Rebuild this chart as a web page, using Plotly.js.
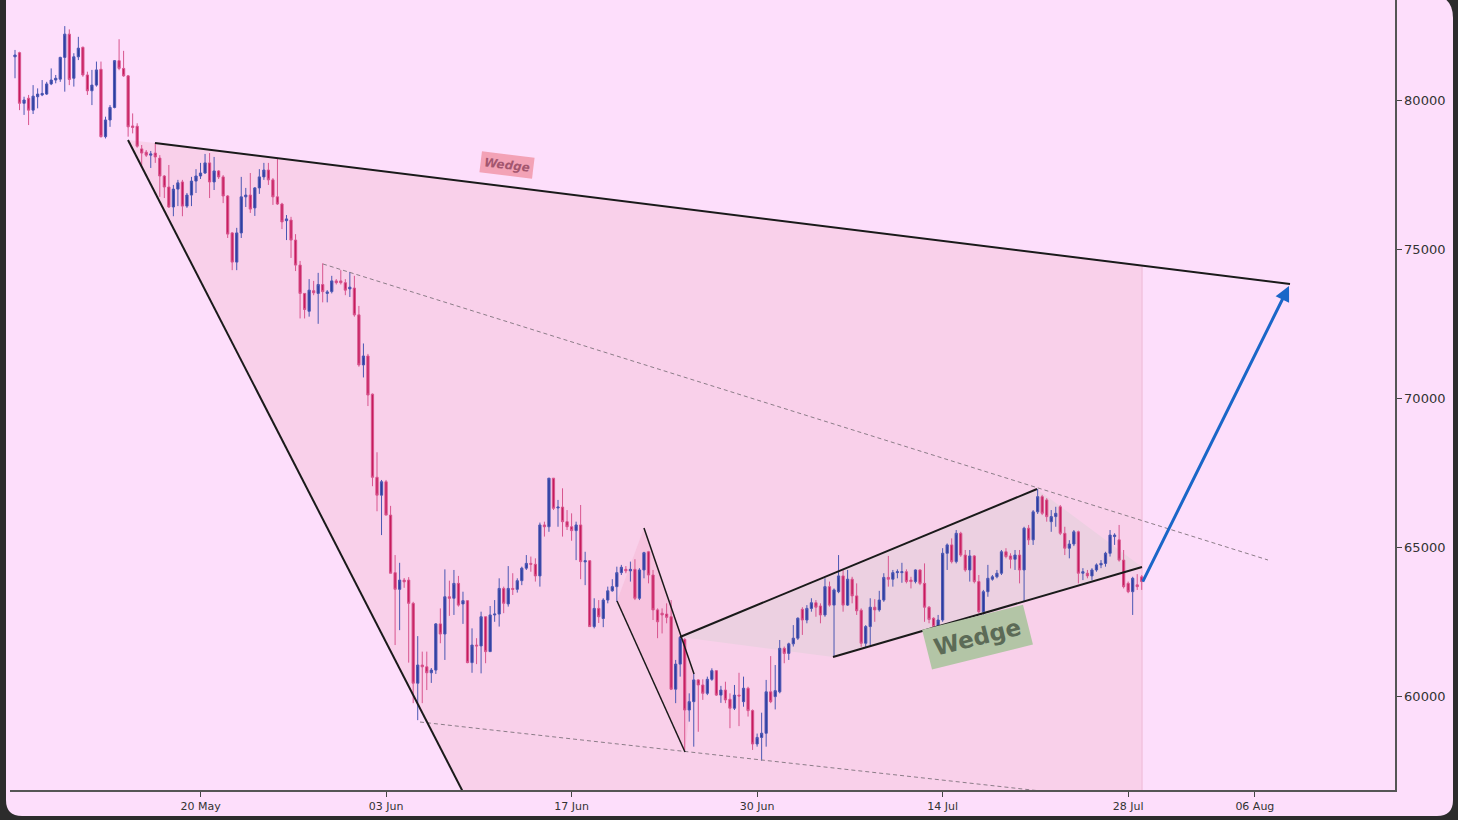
<!DOCTYPE html>
<html>
<head>
<meta charset="utf-8">
<script src="https://cdn.plot.ly/plotly-3.0.1.min.js"></script>
<style>html,body{margin:0;padding:0;background:#2c2c2c;}#chart{width:1458px;height:820px;}</style>
</head>
<body>
<div id="chart"></div>
<script>
// ---- candle data (8h bars, index based axis) ----
const openP = [
81450,81590,79890,80060,79660,80110,80170,80200,80540,80670,
80700,81430,82210,80730,81450,81770,80840,80310,80500,81030,
78770,79330,79750,81320,81060,80810,79130,79120,78360,78250,
78150,78220,78050,77450,77080,76410,77010,77250,76440,76810,
77280,77450,77550,77890,77250,77620,77420,76780,75540,74560,
75540,76750,76810,76380,77050,77420,77650,77320,76750,76510,
75950,75970,75300,74460,73510,72910,73600,73510,73810,73510,
73570,73930,73930,73870,73660,73690,72790,71110,71410,70130,
67340,66740,67190,66070,64140,63580,63890,63890,63110,60430,
61040,60980,60780,60870,62420,62080,63330,63280,63780,63090,
63200,61120,61710,61680,62660,61490,62720,62750,63610,63090,
63610,63580,63870,64290,64450,64420,64030,65740,65680,67310,
66310,66340,65850,65680,65550,65740,64500,64540,62330,62940,
62600,63220,63530,63670,64140,64250,64200,64250,63280,64230,
64840,64060,62890,62780,62750,62660,60230,61070,61900,59530,
59810,60540,60370,60090,60560,60850,60030,60200,59890,59590,
60030,59810,60260,59510,58390,58610,58750,60140,59980,60140,
61600,61430,61750,61940,62910,62550,62940,63130,63020,62720,
63670,63050,63500,64030,63050,63920,63360,62880,61770,62330,
62980,62890,63220,63980,63920,64140,64140,64170,63890,63840,
64230,63780,62980,62610,62330,62550,64790,65070,64510,65460,
64730,64230,64700,63840,62830,63500,63920,64000,64120,64840,
64700,64590,64730,64230,65630,65240,66180,66690,66580,65850,
66020,66350,65460,64960,65100,65510,64120,64120,64030,64230,
64400,64450,64790,65350,65240,64560,63780,63500,63730,64000];

const highP = [
81680,81620,80110,80170,80500,80390,80670,80610,81060,80840,
81450,82480,82370,81570,82120,81790,80950,81010,81290,81290,
79440,79830,81340,82040,81650,80840,79550,79220,78490,78320,
78290,78560,78150,77480,77820,77150,77320,77320,76880,77420,
77680,77890,78190,78220,78090,77650,77480,76810,75570,75710,
77420,77050,77550,77080,77680,77890,77890,77380,78050,76550,
76140,76080,75500,74600,73510,73990,73930,74200,74520,73620,
74100,73990,74290,73990,74230,74100,73090,71830,71480,70150,
68180,67250,67250,66380,64730,64470,63960,63990,63160,62010,
61490,61490,60940,62450,62940,64250,63870,64230,64030,63500,
63220,62270,61940,62830,62660,63020,63220,63950,63670,64360,
64120,63950,64340,64730,64680,64620,65820,65850,67310,67310,
66580,66970,66240,66130,65850,66410,64840,64560,63280,63220,
63280,63670,63920,64340,64400,64360,64510,64590,64290,64840,
64870,64230,62940,62940,63110,63220,61210,62010,61940,60090,
60760,60560,60560,60650,60930,60870,60340,60480,60090,60370,
60780,60650,60310,59550,58740,59440,60540,61340,61040,61880,
61660,61790,62380,62640,62980,63050,63280,63220,63110,63950,
63840,63610,64730,64230,64230,64000,63780,62940,62380,63280,
63250,63530,64120,64700,64230,64250,64470,64250,64000,64250,
64250,64450,63020,62640,62720,64960,65120,65290,65570,65510,
64900,64900,64730,64060,63560,64400,64060,64230,64900,64960,
64790,64900,64900,65680,65740,66240,66950,66750,66640,66240,
66350,66410,65680,65230,65570,65550,64290,64230,64290,64450,
64560,64840,65570,65460,65740,64900,63840,64000,64090,64060];

const lowP = [
80730,79660,79500,79160,79530,79720,80130,80170,80500,80560,
80610,80280,80500,80450,81340,80780,80170,79830,80450,78740,
78710,79100,79720,81000,80780,78770,78880,78400,77820,78090,
77720,77890,76750,76710,76380,76100,76440,76100,76380,76440,
76880,77350,77520,76710,76980,77350,76540,75370,74290,74290,
75370,76410,76210,76110,76850,77320,77150,76480,76480,75670,
75300,74700,74260,72670,72670,72730,73450,72490,73210,73210,
73510,73810,73810,73450,73390,72730,71050,70690,69730,67040,
66200,65400,66070,64120,61710,62210,63630,61120,59760,59190,
59760,60200,60440,60740,61770,61210,62690,62720,63000,62420,
61100,60780,61070,60760,61100,61490,62490,62330,62780,63000,
63390,63470,63720,64230,64170,63840,63670,65350,65510,66240,
65680,65350,65570,65210,64560,63920,63720,62330,62270,62450,
62310,63110,63500,63160,64060,64120,63840,63220,63220,63950,
63780,62550,61940,62100,62440,60200,59760,60650,58190,59140,
58300,58800,59870,60030,60510,60000,59770,59760,58920,59530,
58990,59640,59310,58190,58300,57830,58300,59760,59550,60090,
61100,61210,61660,61880,62050,62440,62830,62660,62440,62660,
63000,61320,63450,62830,63020,63110,62720,61650,61650,61710,
62490,62830,63160,63670,63670,63950,63800,63780,63610,63780,
63720,62490,62440,61880,62210,62490,64230,64450,64450,64670,
64170,63840,63780,62780,62550,63330,63870,63950,64060,64620,
64280,64230,63780,63160,65070,65070,66110,66070,65850,65510,
65680,65400,64730,64620,65030,63780,63890,63950,63890,64170,
64290,64340,64680,65070,64510,63610,63450,62720,63560,63560];

const closeP = [
81510,79890,80000,79660,80130,80200,80220,80540,80670,80730,
81430,82210,80690,81450,81740,80840,80310,80500,81010,78770,
79330,79750,81320,81060,80810,79100,79080,78450,78220,78150,
78190,78090,77450,77080,76410,77010,77220,76440,76810,77280,
77450,77550,77890,77250,77620,77420,76780,75500,74560,75540,
76750,76810,76340,77050,77420,77650,77320,76750,76510,75910,
76010,75300,74460,73510,72970,73620,73530,73810,73570,73560,
73930,73870,73870,73620,73720,72790,71110,71410,70100,67340,
66740,67190,66070,64120,63580,63890,63830,63110,60430,61040,
60980,60780,60870,62420,62080,63330,63280,63780,63050,63200,
61120,61710,61680,62660,61490,62720,62750,63610,63110,63610,
63580,63870,64290,64450,64420,64030,65740,65680,67310,66300,
66340,65850,65680,65550,65740,64510,64540,62330,62940,62660,
63220,63530,63670,64140,64320,64200,64250,63280,64230,64810,
64060,62890,62490,62720,62640,60230,61070,61970,59530,59810,
60540,60370,60090,60560,60850,60030,60200,59870,59590,60030,
60000,60260,59510,58390,58610,58750,60140,59810,60180,61600,
61430,61750,61940,62610,62550,62940,63130,62980,62720,63670,
63050,63560,64030,63050,63920,63360,62860,61770,62330,62980,
62890,63220,63980,63920,64140,64170,64170,63840,63840,64230,
63780,62980,62570,62330,62550,64790,65070,64510,65460,64730,
64230,64700,63840,62830,63500,63950,64000,64120,64840,64680,
64590,64730,64230,65630,65240,66180,66690,66130,66020,66020,
66130,65460,64960,65100,65510,64120,64170,64030,64230,64400,
64450,64790,65400,65400,64560,63670,63500,63950,63670,63840];

// x tick labels (bar index where each date label sits)
const tickIdx    = [41, 82, 123, 164, 205, 246, 274];
const tickLabels = ['20 May', '03 Jun', '17 Jun', '30 Jun', '14 Jul', '28 Jul', '06 Aug'];
const priceTicks = [60000, 65000, 70000, 75000, 80000];

// drawing anchors in data space: [barIndex, price]
const bigTopLine   = [[30.94, 78557], [281.77, 73826]];
const bigLeftLine  = [[24.97, 78658], [101.64, 56000]];
const upperDashed  = [[68.07, 74497], [276.9, 64564]];
const lowerDashed  = [[89.5, 59128], [230, 56756]];
const flagRight    = [[139.0, 65638], [150.06, 60738]];
const flagLeft     = [[133.04, 63188], [148.07, 58120]];
const wedgeTop     = [[146.96, 61980], [225.86, 66946]];
const wedgeBottom  = [[180.77, 61309], [249.06, 64329]];
const bigShade     = [[24.97, 78658], [30.94, 78557], [249.06, 74443], [249.06, 56000], [101.64, 56000]];
const flagShade    = [[133.04, 63188], [139.0, 65638], [150.06, 60738], [148.07, 58120]];
const wedgeShade   = [[146.96, 61980], [225.86, 66946], [249.06, 64329], [180.77, 61309]];
const arrowPts     = [[249.06, 63790], [281.55, 73758]];
const labelTop     = [108.73, 77820];
const labelWedge   = [212.8, 61980];

const idx = openP.map((_, i) => i);

function poly(pts) {
  return 'M ' + pts.map(p => p[0] + ',' + p[1]).join(' L ') + ' Z';
}
function seg(p, color, width, dash, layer) {
  return {type: 'line', xref: 'x', yref: 'y', x0: p[0][0], y0: p[0][1], x1: p[1][0], y1: p[1][1],
          line: {color: color, width: width, dash: dash || 'solid'}, layer: layer || 'above'};
}

const trace = {
  type: 'candlestick',
  x: idx, open: openP, high: highP, low: lowP, close: closeP,
  increasing: {line: {color: '#4b57b3', width: 1}, fillcolor: '#2d3c9e'},
  decreasing: {line: {color: '#d8558e', width: 1}, fillcolor: '#c61b5c'},
  whiskerwidth: 0,
  hoverinfo: 'skip'
};

const BG = '#fddefb';
const frame = 'M -0.00289 1.00633 L 1.02527 1.00633 Q 1.04188 1.00633 1.04188 0.97722 ' +
              'L 1.04188 -0.01266 Q 1.04188 -0.03291 1.03032 -0.03291 L 0.00866 -0.03291 ' +
              'Q -0.00289 -0.03291 -0.00289 -0.01266 Z';

const shapes = [
  {type: 'path', xref: 'paper', yref: 'paper', path: frame, fillcolor: BG, line: {width: 0}, layer: 'below'},
  {type: 'path', xref: 'x', yref: 'y', path: poly(bigShade), fillcolor: '#f9d0ea', line: {width: 0}, layer: 'below'},
  {type: 'line', xref: 'x', yref: 'y', x0: 249.06, x1: 249.06, y0: 56000, y1: 74443,
   line: {color: '#f2c2df', width: 1.5}, layer: 'below'},
  {type: 'path', xref: 'x', yref: 'y', path: poly(flagShade), fillcolor: '#f7c3df', line: {width: 0}, layer: 'below'},
  {type: 'path', xref: 'x', yref: 'y', path: poly(wedgeShade), fillcolor: '#ecd0e1', line: {width: 0}, layer: 'below'},
  seg(upperDashed, '#8c7d88', 1, '4px,3px'),
  seg(lowerDashed, '#8c7d88', 1, '4px,3px'),
  seg(bigTopLine, '#1a1a1a', 2),
  seg(bigLeftLine, '#1a1a1a', 2),
  seg(flagRight, '#1a1a1a', 1.5),
  seg(flagLeft, '#1a1a1a', 1.5),
  seg(wedgeTop, '#1a1a1a', 2),
  seg(wedgeBottom, '#1a1a1a', 2)
];

const annotations = [
  {xref: 'x', yref: 'y', axref: 'x', ayref: 'y',
   x: arrowPts[1][0], y: arrowPts[1][1], ax: arrowPts[0][0], ay: arrowPts[0][1],
   text: '', showarrow: true, arrowhead: 2, arrowsize: 1, arrowwidth: 3, arrowcolor: '#1a66c8', standoff: 0},
  {xref: 'x', yref: 'y', x: labelTop[0], y: labelTop[1], text: '<b><i>Wedge</i></b>', showarrow: false,
   textangle: 7, font: {family: 'DejaVu Sans', size: 12, color: '#a3566f'},
   bgcolor: '#f3a2b6', borderpad: 3},
  {xref: 'x', yref: 'y', x: labelWedge[0], y: labelWedge[1], text: '<b>Wedge</b>', showarrow: false,
   textangle: -14, font: {family: 'DejaVu Sans', size: 23, color: '#5c6b57'},
   bgcolor: '#b3c5a6', borderpad: 7}
];

const layout = {
  width: 1458, height: 820,
  margin: {l: 10, r: 63, t: 0, b: 30, pad: 0},
  paper_bgcolor: '#2c2c2c',
  plot_bgcolor: BG,
  showlegend: false,
  font: {family: 'DejaVu Sans', color: '#333'},
  xaxis: {
    type: 'linear', range: [-1.105, 304.97],
    tickvals: tickIdx, ticktext: tickLabels,
    ticks: 'outside', ticklen: 5, tickcolor: '#444', tickwidth: 1,
    showline: true, linecolor: '#555', linewidth: 1.5,
    showgrid: false, zeroline: false,
    rangeslider: {visible: false},
    tickfont: {family: 'DejaVu Sans', size: 11, color: '#333'},
    fixedrange: true
  },
  yaxis: {
    side: 'right', range: [56846, 83356],
    tickvals: priceTicks, tickformat: 'd',
    ticks: 'outside', ticklen: 5, tickcolor: '#444', tickwidth: 1,
    showline: true, linecolor: '#555', linewidth: 1.5,
    showgrid: false, zeroline: false,
    tickfont: {family: 'DejaVu Sans', size: 13, color: '#333'},
    fixedrange: true
  },
  shapes: shapes,
  annotations: annotations
};

Plotly.newPlot('chart', [trace], layout, {displayModeBar: false, staticPlot: true});
</script>
</body>
</html>
